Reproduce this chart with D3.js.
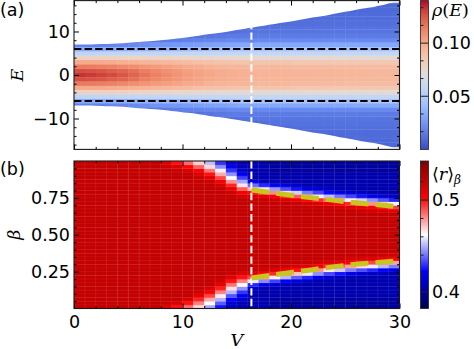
<!DOCTYPE html>
<html>
<head>
<meta charset="utf-8">
<script src="https://cdn.jsdelivr.net/npm/d3@7"></script>
<style>
  html, body { margin: 0; padding: 0; background: #fff; }
  svg { display: block; }
</style>
</head>
<body>
<svg id="fig" width="474" height="349"></svg>
<script>
// ---------------- data ----------------
// V bin edges shared by both panels
const vEdges = [0,1,2,3,4,5,6,7,8,9,10,11,12,13,14,15,16,17,18,19,20,21,22,23,24,25,26,27,28,29,30];

// (a) density of states: |E| bin bounds, spectral half-width per V bin, rho(E) in units of 1e-3
const eBounds = [0,0.5,1.5,2.5,3.5,4.5,5.5,6.5,7.5,8.5,9.5,10.5,11.5,12.5,13.5,14.5,15.5,16.5,17.5];
const eEdge = [7.0,7.0,7.1,7.2,7.3,7.5,7.7,7.9,8.1,8.4,8.7,9.0,9.4,9.7,10.1,10.5,10.9,11.3,11.7,12.1,12.5,13.0,13.4,13.8,14.3,14.7,15.2,15.6,16.1,16.6];
const rhoMilli = [
  [133,127,115,99,80,56,33,18],
  [132,126,115,99,80,56,33,18],
  [130,125,114,99,80,57,34,18],
  [128,123,113,98,80,57,34,19],
  [125,121,111,97,80,57,35,19],
  [121,118,109,96,79,57,36,20],
  [117,114,107,95,79,57,37,22,14],
  [113,111,105,94,78,57,38,24,14],
  [110,108,103,93,78,57,39,25,15],
  [107,106,101,92,77,58,40,26,16],
  [104,103,99,91,77,58,41,27,17,12],
  [102,101,98,90,76,58,42,28,18,12],
  [100,99,96,89,76,58,43,29,19,13],
  [98,98,95,88,75,58,44,30,19,14,10],
  [97,97,94,88,75,58,44,31,20,15,11],
  [96,96,94,87,75,58,45,32,20,15,12],
  [96,95,93,87,75,58,45,32,20,15,13,10],
  [95,95,93,87,74,58,45,32,20,15,13,11],
  [95,95,93,87,74,58,45,32,20,15,13,12,9],
  [95,95,93,87,74,58,45,32,20,15,13,12,10],
  [95,94,92,86,74,58,45,32,20,15,13,12,11],
  [95,94,92,86,74,58,45,32,20,15,13,12,11,9],
  [94,94,92,86,74,58,45,32,20,15,13,12,11,10],
  [94,94,92,86,74,58,45,32,20,15,13,12,11,10,8],
  [94,94,92,86,74,58,45,32,20,15,13,12,11,10,9],
  [94,93,91,86,74,58,45,32,20,15,13,12,11,10,10,8],
  [94,93,91,86,74,58,45,32,20,15,13,12,11,10,10,9],
  [93,93,91,86,74,58,45,32,20,15,13,12,11,10,10,9,8],
  [93,93,91,86,74,58,45,32,20,15,13,12,11,10,10,9,8],
  [93,93,91,85,74,58,45,32,20,15,13,12,11,10,10,9,9,8]
];
const eGuides = [-6, 6];
const vCritical = 16.35;

// (b) mean gap ratio <r>_beta (units of 1e-3); one column per V bin, beta from 0 upward
const betaEdges = [0,0.025,0.05,0.075,0.1,0.125,0.15,0.175,0.2,0.225,0.25,0.275,0.3,0.325,0.35,0.375,0.4,0.425,0.45,0.475,0.5,0.525,0.55,0.575,0.6,0.625,0.65,0.675,0.7,0.725,0.75,0.775,0.8,0.825,0.85,0.875,0.9,0.925,0.95,0.975,1];
const rMilli = [
  [521,521,521,521,521,521,521,521,521,521,521,521,521,521,521,521,521,521,521,521,521,521,521,521,521,521,521,521,521,521,521,521,521,521,521,521,521,521,521,521],
  [521,521,521,521,521,521,521,521,521,521,521,521,521,521,521,521,521,521,521,521,521,521,521,521,521,521,521,521,521,521,521,521,521,521,521,521,521,521,521,521],
  [521,521,521,521,521,521,521,521,521,521,521,521,521,521,521,521,521,521,521,521,521,521,521,521,521,521,521,521,521,521,521,521,521,521,521,521,521,521,521,521],
  [521,521,521,521,521,521,521,521,521,521,521,521,521,521,521,521,521,521,521,521,521,521,521,521,521,521,521,521,521,521,521,521,521,521,521,521,521,521,521,521],
  [521,521,521,521,521,521,521,521,521,521,521,521,521,521,521,521,521,521,521,521,521,521,521,521,521,521,521,521,521,521,521,521,521,521,521,521,521,521,521,521],
  [521,521,521,521,521,521,521,521,521,521,521,521,521,521,521,521,521,521,521,521,521,521,521,521,521,521,521,521,521,521,521,521,521,521,521,521,521,521,521,521],
  [521,521,521,521,521,521,521,521,521,521,521,521,521,521,521,521,521,521,521,521,521,521,521,521,521,521,521,521,521,521,521,521,521,521,521,521,521,521,521,521],
  [521,521,521,521,521,521,521,521,521,521,521,521,521,521,521,521,521,521,521,521,521,521,521,521,521,521,521,521,521,521,521,521,521,521,521,521,521,521,521,521],
  [512,521,521,521,521,521,521,521,521,521,521,521,521,521,521,521,521,521,521,521,521,521,521,521,521,521,521,521,521,521,521,521,521,521,521,521,521,521,521,512],
  [500,514,521,521,521,521,521,521,521,521,521,521,521,521,521,521,521,521,521,521,521,521,521,521,521,521,521,521,521,521,521,521,521,521,521,521,521,521,514,500],
  [485,500,514,521,521,521,521,521,521,521,521,521,521,521,521,521,521,521,521,521,521,521,521,521,521,521,521,521,521,521,521,521,521,521,521,521,521,515,502,486],
  [468,482,497,510,518,521,521,521,521,521,521,521,521,521,521,521,521,521,521,521,521,521,521,521,521,521,521,521,521,521,521,521,521,521,521,520,514,503,487,470],
  [448,462,476,492,505,515,521,521,521,521,521,521,521,521,521,521,521,521,521,521,521,521,521,521,521,521,521,521,521,521,521,521,521,521,519,512,500,484,468,452],
  [425,436,450,465,482,498,510,518,521,521,521,521,521,521,521,521,521,521,521,521,521,521,521,521,521,521,521,521,521,521,521,521,521,516,506,492,476,460,444,430],
  [408,412,422,435,450,467,484,500,512,519,521,521,521,521,521,521,521,521,521,521,521,521,521,521,521,521,521,521,521,521,521,518,510,497,480,462,445,430,418,410],
  [404,406,410,418,430,445,462,482,500,513,520,521,521,521,521,521,521,521,521,521,521,521,521,521,521,521,521,521,521,521,516,506,488,466,448,432,418,410,406,405],
  [404,404,404,404,404,409,428,459,492,511,520,521,521,521,521,521,521,521,521,521,521,521,521,521,521,521,521,521,521,521,515,501,473,439,415,404,404,404,404,404],
  [404,404,404,404,404,404,417,444,479,504,517,521,521,521,521,521,521,521,521,521,521,521,521,521,521,521,521,521,521,520,511,492,459,428,409,404,404,404,404,404],
  [400,400,400,404,404,404,411,432,465,496,513,521,521,521,521,521,521,521,521,521,521,521,521,521,521,521,521,521,521,517,506,481,446,419,404,404,404,400,400,400],
  [400,400,400,404,404,404,407,421,451,485,507,518,521,521,521,521,521,521,521,521,521,521,521,521,521,521,521,521,521,513,498,468,434,412,404,404,404,400,400,400],
  [400,400,400,404,404,404,404,414,437,472,500,514,521,521,521,521,521,521,521,521,521,521,521,521,521,521,521,521,519,509,488,455,425,408,404,404,404,400,400,400],
  [400,400,400,404,404,404,404,409,428,459,492,511,520,521,521,521,521,521,521,521,521,521,521,521,521,521,521,521,516,503,476,441,416,404,404,404,404,400,400,400],
  [400,400,400,404,404,404,404,404,418,445,480,505,517,521,521,521,521,521,521,521,521,521,521,521,521,521,521,521,513,496,465,432,411,404,404,404,404,400,400,400],
  [400,400,400,404,404,404,404,404,411,433,466,497,513,521,521,521,521,521,521,521,521,521,521,521,521,521,521,519,508,486,452,423,407,404,404,404,404,400,400,400],
  [400,400,400,404,404,404,404,404,407,425,454,487,509,519,521,521,521,521,521,521,521,521,521,521,521,521,521,516,503,476,441,416,404,404,404,404,404,400,400,400],
  [400,400,400,404,404,404,404,404,404,417,442,477,504,516,521,521,521,521,521,521,521,521,521,521,521,521,521,513,496,465,432,411,404,404,404,404,404,400,400,400],
  [400,400,400,404,404,404,404,404,404,412,434,468,498,513,521,521,521,521,521,521,521,521,521,521,521,521,519,509,488,455,425,408,404,404,404,404,404,400,400,400],
  [400,400,400,404,404,404,404,404,404,409,428,459,492,511,520,521,521,521,521,521,521,521,521,521,521,521,517,505,480,445,418,404,404,404,404,404,404,400,400,400],
  [400,400,400,404,404,404,404,404,404,407,421,451,485,507,518,521,521,521,521,521,521,521,521,521,521,521,514,500,470,436,413,404,404,404,404,404,404,400,400,400],
  [400,400,400,404,404,404,404,404,404,404,417,442,477,504,516,521,521,521,521,521,521,521,521,521,521,521,511,493,461,428,409,404,404,404,404,404,404,400,400,400]
];

// mobility-edge estimates in the (V, beta) plane
const edgeV = [16.35, 18, 20, 22, 24, 26, 28, 30];
const edgeUpper = [0.804, 0.788, 0.768, 0.750, 0.733, 0.717, 0.703, 0.690];
const edgeLower = [0.207, 0.224, 0.244, 0.263, 0.284, 0.300, 0.312, 0.324];

// ticks
const vTicks = [0, 10, 20, 30];
const vMinor = [2,4,6,8,12,14,16,18,22,24,26,28];
const eTicks = [-10, 0, 10];
const eMinor = [-16,-14,-12,-8,-6,-4,-2,2,4,6,8,12,14,16];
const betaTicks = [0.25, 0.5, 0.75];
const betaMinor = [0.05,0.1,0.15,0.2,0.3,0.35,0.4,0.45,0.55,0.6,0.65,0.7,0.8,0.85,0.9,0.95];
const rhoTicks = [0.05, 0.10];
const rhoMinor = [0.01667, 0.03333, 0.06667, 0.08333, 0.11667, 0.13333];
const rTicks = [0.4, 0.5];
const rMinor = [0.42, 0.44, 0.46, 0.48, 0.52, 0.54];

const rhoRange = [0, 0.14];
const rRange = [0.382, 0.5425];

// ---------------- colour maps ----------------
const coolwarmStops = [[59,76,192],[77,104,215],[98,130,234],[119,154,247],[141,176,254],[163,194,255],[184,208,249],[204,217,238],[221,221,221],[236,211,197],[245,196,173],[247,177,148],[244,154,123],[236,127,99],[222,96,77],[203,62,56],[180,4,38]];
const seismicStops = [[0,0,77],[0,0,255],[255,255,255],[255,0,0],[128,0,0]];
function makeMap(stops) {
  return d3.scaleLinear()
    .domain(stops.map((_, i) => i / (stops.length - 1)))
    .range(stops.map(c => d3.rgb(c[0], c[1], c[2])))
    .interpolate(d3.interpolateRgb).clamp(true);
}
const coolwarm = makeMap(coolwarmStops);
const seismic = makeMap(seismicStops);
const rhoT = d3.scaleLinear().domain(rhoRange).range([0, 1]).clamp(true);
const rT = d3.scaleLinear().domain(rRange).range([0, 1]).clamp(true);

// ---------------- layout ----------------
const svg = d3.select("#fig");
const X0 = 74, X1 = 399.5;
const A = { top: 0.6, bottom: 149.4 };
const B = { top: 161, bottom: 308.5 };
const CB = { x0: 420.5, x1: 428.5 };
const FS = 17.5;
const sans = "DejaVu Sans, sans-serif";
const serif = "DejaVu Serif, serif";

const x = d3.scaleLinear().domain([0, 30]).range([X0, X1]);
const yE = d3.scaleLinear().domain([-17.1, 17.1]).range([A.bottom, A.top]);
const yB = d3.scaleLinear().domain([0, 1]).range([B.bottom, B.top]);
const yRho = d3.scaleLinear().domain(rhoRange).range([A.bottom, A.top]);
const yR = d3.scaleLinear().domain(rRange).range([B.bottom, B.top]);

const defs = svg.append("defs");
defs.append("clipPath").attr("id", "clipA").append("rect")
  .attr("x", X0).attr("y", A.top).attr("width", X1 - X0).attr("height", A.bottom - A.top);
defs.append("clipPath").attr("id", "clipB").append("rect")
  .attr("x", X0).attr("y", B.top).attr("width", X1 - X0).attr("height", B.bottom - B.top);

// spectral support: band between -edge and +edge, through the bin centres
const supportPts = [[vEdges[0], eEdge[0]]]
  .concat(eEdge.map((e, i) => [(vEdges[i] + vEdges[i + 1]) / 2, e]))
  .concat([[vEdges[vEdges.length - 1], eEdge[eEdge.length - 1]]]);
const supportArea = d3.area()
  .x(d => x(d[0])).y0(d => yE(-d[1])).y1(d => yE(d[1]))
  .curve(d3.curveMonotoneX);
defs.append("clipPath").attr("id", "supportA").append("path").attr("d", supportArea(supportPts));

// ---------------- panel (a): rho(E) map ----------------
const cellsA = [];
rhoMilli.forEach((col, i) => {
  col.forEach((val, k) => {
    const lo = eBounds[k];
    // outermost bin runs out to the support boundary (clipped below)
    const hi = k === col.length - 1 ? eBounds[k + 1] + 1 : eBounds[k + 1];
    const v = val / 1000;
    cellsA.push({ v0: vEdges[i], v1: vEdges[i + 1], e0: lo, e1: hi, val: v });
    cellsA.push({ v0: vEdges[i], v1: vEdges[i + 1], e0: -hi, e1: -lo, val: v });
  });
});
const gAouter = svg.append("g").attr("clip-path", "url(#clipA)");
const gA = gAouter.append("g").attr("clip-path", "url(#supportA)");
gA.selectAll("rect").data(cellsA).join("rect")
  .attr("x", d => x(d.v0))
  .attr("width", d => x(d.v1) - x(d.v0) + 0.4)
  .attr("y", d => yE(d.e1))
  .attr("height", d => yE(d.e0) - yE(d.e1) + 0.3)
  .attr("fill", d => coolwarm(rhoT(d.val)));

gAouter.selectAll("line.guide").data(eGuides).join("line")
  .attr("class", "guide")
  .attr("x1", X0).attr("x2", X1)
  .attr("y1", d => yE(d)).attr("y2", d => yE(d))
  .attr("stroke", "#000").attr("stroke-width", 2).attr("stroke-dasharray", "7.4,3.2");
gAouter.append("line")
  .attr("x1", x(vCritical)).attr("x2", x(vCritical))
  .attr("y1", A.top).attr("y2", A.bottom)
  .attr("stroke", "#fff").attr("stroke-width", 2).attr("stroke-dasharray", "7.4,3.2");

// ---------------- panel (b): <r>_beta map ----------------
const cellsB = [];
rMilli.forEach((col, i) => {
  col.forEach((val, k) => {
    cellsB.push({ v0: vEdges[i], v1: vEdges[i + 1], b0: betaEdges[k], b1: betaEdges[k + 1], val: val / 1000 });
  });
});
const gB = svg.append("g").attr("clip-path", "url(#clipB)");
gB.selectAll("rect").data(cellsB).join("rect")
  .attr("x", d => x(d.v0))
  .attr("width", d => x(d.v1) - x(d.v0) + 0.4)
  .attr("y", d => yB(d.b1))
  .attr("height", d => yB(d.b0) - yB(d.b1) + 0.4)
  .attr("fill", d => seismic(rT(d.val)));

// faint mesh seams
gB.selectAll("line.vs").data(vEdges).join("line").attr("class", "vs")
  .attr("x1", d => x(d)).attr("x2", d => x(d)).attr("y1", B.top).attr("y2", B.bottom)
  .attr("stroke", "#fff").attr("stroke-opacity", 0.1).attr("stroke-width", 0.8);
gB.selectAll("line.hs").data(betaEdges).join("line").attr("class", "hs")
  .attr("x1", X0).attr("x2", X1).attr("y1", d => yB(d)).attr("y2", d => yB(d))
  .attr("stroke", "#fff").attr("stroke-opacity", 0.08).attr("stroke-width", 0.8);

gB.append("line")
  .attr("x1", x(vCritical)).attr("x2", x(vCritical))
  .attr("y1", B.top).attr("y2", B.bottom)
  .attr("stroke", "#fff").attr("stroke-width", 2).attr("stroke-dasharray", "7.4,3.2");

const edgeLine = d3.line().x(d => x(d[0])).y(d => yB(d[1]));
[edgeUpper, edgeLower].forEach(arr => {
  gB.append("path")
    .attr("d", edgeLine(edgeV.map((v, i) => [v, arr[i]])))
    .attr("fill", "none").attr("stroke", "#c9c420").attr("stroke-width", 5)
    .attr("stroke-dasharray", "18,7");
});

// ---------------- axes ----------------
function styleAxis(g) {
  g.select(".domain").remove();
  g.selectAll("line").attr("stroke", "#000").attr("stroke-width", 1);
  g.selectAll("text").attr("font-family", sans).attr("font-size", FS).attr("fill", "#000");
}
function frame(top, bottom, yScale, yMajor, yMinor, yFmt, showX) {
  const xMaj = showX ? d3.format("d") : () => "";
  svg.append("g").attr("transform", `translate(${X0},0)`)
    .call(d3.axisLeft(yScale).tickValues(yMajor).tickSizeInner(-5).tickSizeOuter(0).tickPadding(4).tickFormat(yFmt))
    .call(styleAxis);
  svg.append("g").attr("transform", `translate(${X0},0)`)
    .call(d3.axisLeft(yScale).tickValues(yMinor).tickSizeInner(-2.5).tickSizeOuter(0).tickFormat(() => ""))
    .call(styleAxis);
  svg.append("g").attr("transform", `translate(${X1},0)`)
    .call(d3.axisRight(yScale).tickValues(yMajor).tickSizeInner(-5).tickSizeOuter(0).tickFormat(() => ""))
    .call(styleAxis);
  svg.append("g").attr("transform", `translate(${X1},0)`)
    .call(d3.axisRight(yScale).tickValues(yMinor).tickSizeInner(-2.5).tickSizeOuter(0).tickFormat(() => ""))
    .call(styleAxis);
  svg.append("g").attr("transform", `translate(0,${bottom})`)
    .call(d3.axisBottom(x).tickValues(vTicks).tickSizeInner(-5).tickSizeOuter(0).tickPadding(7).tickFormat(xMaj))
    .call(styleAxis);
  svg.append("g").attr("transform", `translate(0,${bottom})`)
    .call(d3.axisBottom(x).tickValues(vMinor).tickSizeInner(-2.5).tickSizeOuter(0).tickFormat(() => ""))
    .call(styleAxis);
  svg.append("g").attr("transform", `translate(0,${top})`)
    .call(d3.axisTop(x).tickValues(vTicks).tickSizeInner(-5).tickSizeOuter(0).tickFormat(() => ""))
    .call(styleAxis);
  svg.append("g").attr("transform", `translate(0,${top})`)
    .call(d3.axisTop(x).tickValues(vMinor).tickSizeInner(-2.5).tickSizeOuter(0).tickFormat(() => ""))
    .call(styleAxis);
  svg.append("rect").attr("x", X0).attr("y", top).attr("width", X1 - X0).attr("height", bottom - top)
    .attr("fill", "none").attr("stroke", "#1a1a1a").attr("stroke-width", 1.1);
}
const minusFmt = d => (d < 0 ? "\u2212" + Math.abs(d) : String(d));
frame(A.top, A.bottom, yE, eTicks, eMinor, minusFmt, false);
frame(B.top, B.bottom, yB, betaTicks, betaMinor, d3.format(".2f"), true);

// ---------------- colour bars ----------------
function colorbar(id, map, top, bottom, yScale, major, minor, fmt) {
  const grad = defs.append("linearGradient").attr("id", id)
    .attr("x1", 0).attr("y1", 1).attr("x2", 0).attr("y2", 0);
  d3.range(0, 1.0001, 1 / 64).forEach(t => {
    grad.append("stop").attr("offset", t).attr("stop-color", map(t));
  });
  svg.append("rect").attr("x", CB.x0).attr("y", top).attr("width", CB.x1 - CB.x0).attr("height", bottom - top)
    .attr("fill", `url(#${id})`);
  const g = svg.append("g");
  g.selectAll("line.maj").data(major).join("line").attr("class", "maj")
    .attr("x1", CB.x0).attr("x2", CB.x1).attr("y1", d => yScale(d)).attr("y2", d => yScale(d))
    .attr("stroke", "#222").attr("stroke-width", 1);
  g.selectAll("line.min").data(minor).join("line").attr("class", "min")
    .attr("x1", CB.x0).attr("x2", CB.x0 + 3).attr("y1", d => yScale(d)).attr("y2", d => yScale(d))
    .attr("stroke", "#222").attr("stroke-width", 1);
  g.selectAll("text").data(major).join("text")
    .attr("x", CB.x1 + 3.5).attr("y", d => yScale(d)).attr("dy", "0.36em")
    .attr("font-family", sans).attr("font-size", FS).attr("fill", "#000")
    .text(fmt);
  svg.append("rect").attr("x", CB.x0).attr("y", top).attr("width", CB.x1 - CB.x0).attr("height", bottom - top)
    .attr("fill", "none").attr("stroke", "#222").attr("stroke-width", 0.8);
}
colorbar("gradRho", coolwarm, A.top, A.bottom, yRho, rhoTicks, rhoMinor, d3.format(".2f"));
colorbar("gradR", seismic, B.top, B.bottom, yR, rTicks, rMinor, d3.format(".1f"));

// ---------------- labels ----------------
const rhoLab = svg.append("text").attr("x", 432).attr("y", 16)
  .attr("font-family", serif).attr("font-size", FS).attr("fill", "#000");
rhoLab.append("tspan").attr("font-style", "italic").text("\u03c1");
rhoLab.append("tspan").text("(");
rhoLab.append("tspan").attr("font-style", "italic").text("E");
rhoLab.append("tspan").text(")");

const rLab = svg.append("text").attr("x", 432).attr("y", 180)
  .attr("font-family", serif).attr("font-size", FS).attr("fill", "#000");
rLab.append("tspan").attr("font-family", sans).text("\u27e8");
rLab.append("tspan").attr("font-style", "italic").text("r");
rLab.append("tspan").attr("font-family", sans).text("\u27e9");
rLab.append("tspan").attr("font-style", "italic").attr("font-size", 12).attr("dy", 4).text("\u03b2");

svg.append("text").attr("transform", `translate(17,${yE(0)}) rotate(-90)`)
  .attr("text-anchor", "middle").attr("dy", "0.35em")
  .attr("font-family", serif).attr("font-style", "italic").attr("font-size", FS).text("E");
svg.append("text").attr("transform", `translate(14,${yB(0.5)}) rotate(-90)`)
  .attr("text-anchor", "middle").attr("dy", "0.35em")
  .attr("font-family", serif).attr("font-style", "italic").attr("font-size", FS).text("\u03b2");
svg.append("text").attr("x", (X0 + X1) / 2).attr("y", 346)
  .attr("text-anchor", "middle")
  .attr("font-family", serif).attr("font-style", "italic").attr("font-size", FS).text("V");

svg.append("text").attr("x", 0).attr("y", 16)
  .attr("font-family", sans).attr("font-size", FS).text("(a)");
svg.append("text").attr("x", 0).attr("y", 175)
  .attr("font-family", sans).attr("font-size", FS).text("(b)");
</script>
</body>
</html>
